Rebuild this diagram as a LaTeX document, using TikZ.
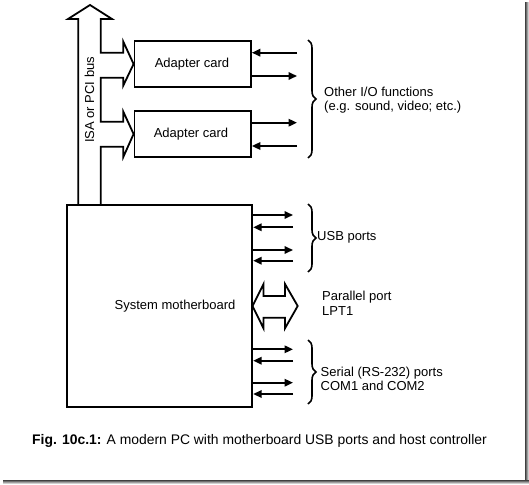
\documentclass[tikz,border=0pt]{standalone}
\usepackage{fontspec}
\setmainfont{Liberation Sans}
\usetikzlibrary{arrows.meta,decorations.pathreplacing}
\begin{document}
\begin{tikzpicture}[x=1pt,y=-1pt,
  lbl/.style={font=\fontsize{13}{14.6}\selectfont,inner sep=0pt},
  box/.style={draw,line width=1.8pt,fill=white,inner sep=0pt},
  thick line/.style={line width=1.8pt,line join=miter},
  arr/.style={line width=1.8pt,-{Triangle[length=8.5pt,width=7.5pt]}},
  brc/.style={line width=1.6pt,decorate,decoration={brace,amplitude=8pt}}]
\useasboundingbox (0,0) rectangle (529,484);
% shadow
\shade[left color=black!75,right color=white] (525,3) rectangle (529,484);
\shade[top color=black!75,bottom color=white] (3,480) rectangle (529,484);
% boxes
\node[box,minimum width=116.5pt,minimum height=46pt] (card1) at (192.75,64) {};
\node[lbl] (card1t) at (192,64) {Adapter card};
\node[box,minimum width=116.5pt,minimum height=46pt] (card2) at (192.75,134) {};
\node[lbl] (card2t) at (191,134) {Adapter card};
\node[box,minimum width=185.6pt,minimum height=202.3pt] (mb) at (159.5,306.2) {};
\node[lbl] (mbt) at (175,306) {System motherboard};
% bus
\draw[thick line] (78.3,205) -- (78.3,19) -- (68,19) -- (90,5) -- (112,19) -- (100.7,19)
  -- (100.7,52.7) -- (123.3,52.7) -- (123.3,41.7) -- (card1.west) -- (123.3,85.5)
  -- (123.3,77.7) -- (100.7,77.7) -- (100.7,121.7) -- (123.3,121.7) -- (123.3,111.7)
  -- (card2.west) -- (123.3,157) -- (123.3,146.7) -- (100.7,146.7) -- (100.7,205);
\node[lbl,rotate=90] (bus) at (89.5,100) {ISA or PCI bus};
% card arrows
\coordinate (a1) at (297,52.7);
\coordinate (a2) at (297,76);
\coordinate (a3) at (297,122.7);
\coordinate (a4) at (297,146);
\draw[arr] (a1) -- (a1 -| card1.east);
\draw[arr] (a2 -| card1.east) -- (a2);
\draw[arr] (a3 -| card2.east) -- (a3);
\draw[arr] (a4) -- (a4 -| card2.east);
% USB arrows
\coordinate (u1) at (293,215);
\coordinate (u2) at (293,227.3);
\coordinate (u3) at (293,250);
\coordinate (u4) at (293,260.7);
\draw[arr] (u1 -| mb.east) -- (u1);
\draw[arr] (u2) -- (u2 -| mb.east);
\draw[arr] (u3 -| mb.east) -- (u3);
\draw[arr] (u4) -- (u4 -| mb.east);
% serial arrows
\coordinate (s1) at (293,349.3);
\coordinate (s2) at (293,360.7);
\coordinate (s3) at (293,382.7);
\coordinate (s4) at (293,394);
\draw[arr] (s1 -| mb.east) -- (s1);
\draw[arr] (s2) -- (s2 -| mb.east);
\draw[arr] (s3 -| mb.east) -- (s3);
\draw[arr] (s4) -- (s4 -| mb.east);
% parallel double arrow
\draw[thick line,fill=white] (252.5,306) -- (263.5,284) -- (263.5,296) -- (285,296) -- (285,284)
  -- (297.7,306) -- (285,328.3) -- (285,317.7) -- (263.5,317.7) -- (263.5,328.3) -- cycle;
% braces
\coordinate (b1t) at (308,40);  \coordinate (b1b) at (308,158);
\coordinate (b2t) at (308,204); \coordinate (b2b) at (308,272);
\coordinate (b3t) at (308,340); \coordinate (b3b) at (308,404);
\draw[brc] (b1t) -- (b1b);
\draw[brc] (b2t) -- (b2b);
\draw[brc] (b3t) -- (b3b);
% labels
\node[lbl,anchor=west,align=left] (io) at (324,100) {Other I/O functions\\(e.g. sound, video; etc.)};
\node[lbl,anchor=west] (usb) at (317,237) {USB ports};
\node[lbl,anchor=west,align=left] (par) at (322,303.5) {Parallel port\\LPT1};
\node[lbl,anchor=west,align=left,font=\fontsize{13}{13.5}\selectfont] (ser) at (320.5,379) {Serial (RS-232) ports\\COM1 and COM2};
\node[lbl,font=\fontsize{13.9}{16}\selectfont] (cap) at (259.5,441) {\textbf{Fig. 10c.1:} A modern PC with motherboard USB ports and host controller};
\end{tikzpicture}
\end{document}
